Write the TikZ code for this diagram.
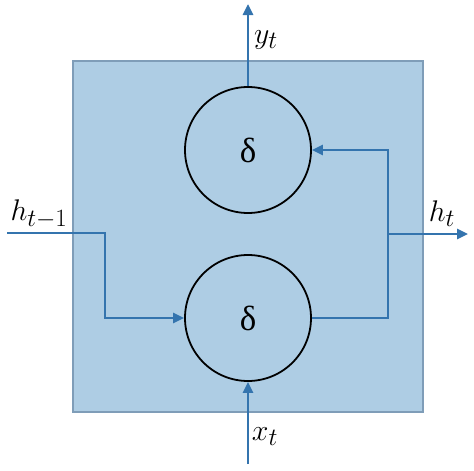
\documentclass[tikz,border=0pt]{standalone}
\usepackage{fontspec}
\usetikzlibrary{arrows.meta}
\newfontfamily\grkfont{Liberation Serif}
\definecolor{boxfill}{HTML}{AECDE4}
\definecolor{boxedge}{HTML}{7F9DB8}
\definecolor{wire}{HTML}{3474AE}
\newcommand{\biglbl}[1]{\scalebox{1.2}{\Huge$#1$}}
\tikzset{
  cell/.style={circle, draw=black, line width=1.8pt, minimum size=126pt, inner sep=0pt, font=\grkfont\fontsize{35}{36}\selectfont},
  wirearrow/.style={draw=wire, line width=2.6pt, -{Triangle[length=11pt,width=10pt]}},
  lbl/.style={inner sep=0pt}
}
\begin{document}
\begin{tikzpicture}[x=1pt,y=-1pt]
\useasboundingbox (0,0) rectangle (474,471);
\node[draw=boxedge, fill=boxfill, line width=1.2pt, minimum width=350pt, minimum height=351pt, inner sep=0pt] (box) at (248,236.5) {};
\node[cell] (top) at (248,150) {δ};
\node[cell] (bot) at (248,318) {δ};
\coordinate (ytip) at (248,4);
\coordinate (hin) at (7,233);
\coordinate (hbend) at (105,233);
\coordinate (hdown) at (105,318);
\coordinate (rbot) at (388,318);
\coordinate (rtop) at (388,150);
\coordinate (rmid) at (388,234);
\coordinate (hout) at (468,234);
\coordinate (xin) at (248,464);
\draw[wirearrow] (top.north) -- (ytip);
\draw[wirearrow] (hin) -- (hbend) -- (hdown) -- (bot.west);
\draw[wirearrow] (bot.east) -- (rbot) -- (rtop) -- (top.east);
\draw[wirearrow] (rmid) -- (hout);
\draw[wirearrow] (xin) -- (bot.south);
\node[lbl] (ylab) at (266,40) {\biglbl{y_t}};
\node[lbl] (hlab) at (39,214) {\biglbl{h_{t-1}}};
\node[lbl] (htlab) at (442,214) {\biglbl{h_t}};
\node[lbl] (xlab) at (265,437) {\biglbl{x_t}};
\end{tikzpicture}
\end{document}
